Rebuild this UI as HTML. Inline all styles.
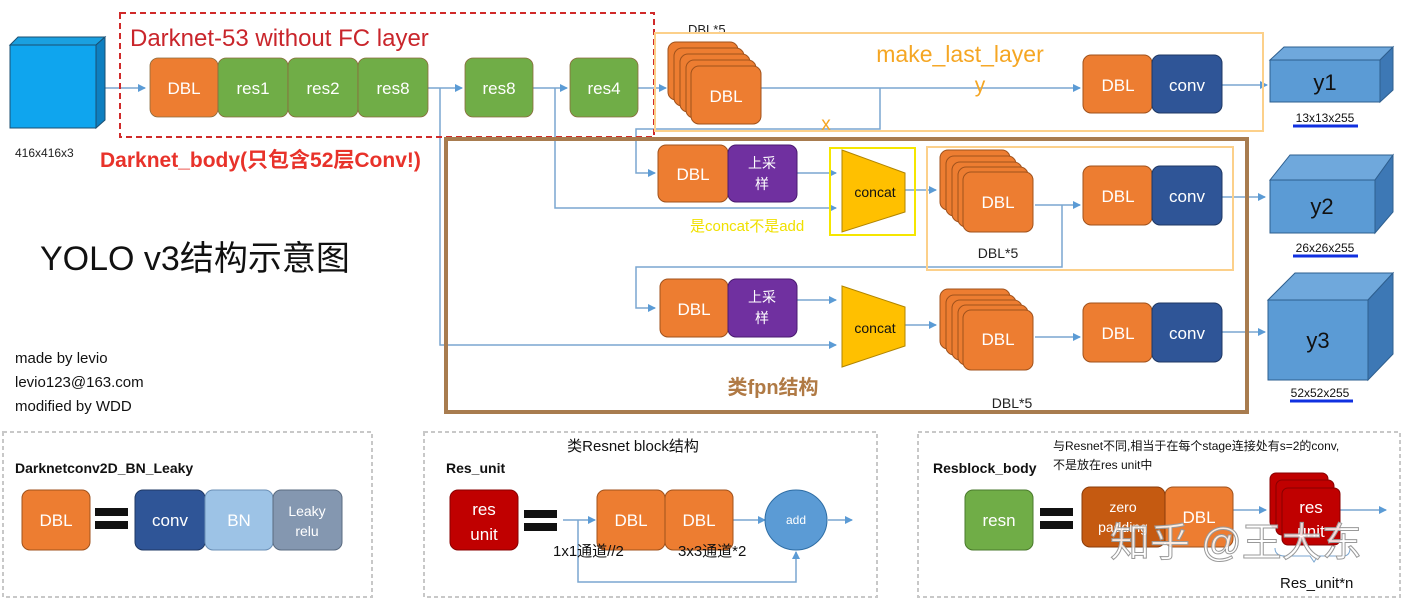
<!DOCTYPE html>
<html><head><meta charset="utf-8"><style>
html,body{margin:0;padding:0;background:#fff;}
svg{display:block;font-family:"Liberation Sans","Noto Sans CJK SC",sans-serif;}
</style></head><body>
<svg width="1410" height="599" viewBox="0 0 1410 599" xmlns="http://www.w3.org/2000/svg">
<defs>
<marker id="a" markerWidth="8" markerHeight="8" refX="7" refY="4" orient="auto" markerUnits="userSpaceOnUse"><path d="M0,0 L8,4 L0,8 Z" fill="#5b9bd5"/></marker>
</defs>
<g stroke="#7aa6d0" stroke-width="1.5" fill="none">
<line x1="80" y1="88" x2="145" y2="88" marker-end="url(#a)"/>
<line x1="428" y1="88" x2="462" y2="88" marker-end="url(#a)"/>
<line x1="533" y1="88" x2="567" y2="88" marker-end="url(#a)"/>
<line x1="638" y1="88" x2="666" y2="88" marker-end="url(#a)"/>
<line x1="760" y1="88" x2="1080" y2="88" marker-end="url(#a)"/>
<polyline points="880,88 880,129 636,129 636,173 655,173" marker-end="url(#a)"/>
<polyline points="440,88 440,345 836,345" marker-end="url(#a)"/>
<polyline points="555,88 555,208 836,208" marker-end="url(#a)"/>
<line x1="1222" y1="85" x2="1267" y2="85" marker-end="url(#a)"/>
<line x1="797" y1="173" x2="836" y2="173" marker-end="url(#a)"/>
<line x1="905" y1="190" x2="936" y2="190" marker-end="url(#a)"/>
<line x1="1035" y1="205" x2="1080" y2="205" marker-end="url(#a)"/>
<polyline points="1062,205 1062,267 636,267 636,308 655,308" marker-end="url(#a)"/>
<line x1="1222" y1="197" x2="1265" y2="197" marker-end="url(#a)"/>
<line x1="797" y1="300" x2="836" y2="300" marker-end="url(#a)"/>
<line x1="905" y1="325" x2="936" y2="325" marker-end="url(#a)"/>
<line x1="1035" y1="337" x2="1080" y2="337" marker-end="url(#a)"/>
<line x1="1222" y1="332" x2="1265" y2="332" marker-end="url(#a)"/>
<line x1="563" y1="520" x2="595" y2="520" marker-end="url(#a)"/>
<line x1="733" y1="520" x2="765" y2="520" marker-end="url(#a)"/>
<line x1="828" y1="520" x2="852" y2="520" marker-end="url(#a)"/>
<polyline points="578,520 578,582 796,582 796,552" marker-end="url(#a)"/>
<line x1="1233" y1="510" x2="1266" y2="510" marker-end="url(#a)"/>
<line x1="1340" y1="510" x2="1386" y2="510" marker-end="url(#a)"/>
</g>
<polygon points="10,45 18,37 105,37 96,45" fill="#1aa0e0" stroke="#1b4f72"/>
<polygon points="96,45 105,37 105,120 96,128" fill="#0e7fc0" stroke="#1b4f72"/>
<rect x="10" y="45" width="86" height="83" fill="#0fa5ee" stroke="#1b4f72"/>
<text x="15" y="157" font-size="12" fill="#222">416x416x3</text>
<rect x="120" y="13" width="534" height="124" fill="none" stroke="#d02a2a" stroke-width="2" stroke-dasharray="6,4"/>
<text x="130" y="46" font-size="24" fill="#c9252b">Darknet-53 without FC layer</text>
<text x="100" y="167" font-size="21" font-weight="bold" fill="#e8322a">Darknet_body(只包含52层Conv!)</text>
<g font-size="17" fill="#fff" text-anchor="middle" stroke="#8a6a3c" stroke-width="0.8">
<rect x="150" y="58" width="68" height="59" rx="8" fill="#ed7d31"/>
<rect x="218" y="58" width="70" height="59" rx="8" fill="#70ad47"/>
<rect x="288" y="58" width="70" height="59" rx="8" fill="#70ad47"/>
<rect x="358" y="58" width="70" height="59" rx="8" fill="#70ad47"/>
<rect x="465" y="58" width="68" height="59" rx="8" fill="#70ad47"/>
<rect x="570" y="58" width="68" height="59" rx="8" fill="#70ad47"/>
</g>
<g font-size="17" fill="#fff" text-anchor="middle">
<text x="184" y="94">DBL</text><text x="253" y="94">res1</text><text x="323" y="94">res2</text><text x="393" y="94">res8</text><text x="499" y="94">res8</text><text x="604" y="94">res4</text>
</g>
<text x="688" y="34" font-size="13" fill="#222">DBL*5</text>
<rect x="655" y="33" width="608" height="98" fill="none" stroke="#fcd08a" stroke-width="2"/>
<text x="960" y="62" font-size="23" fill="#f5a623" text-anchor="middle">make_last_layer</text>
<text x="980" y="92" font-size="21" fill="#f5a623" text-anchor="middle">y</text>
<text x="826" y="130" font-size="19" fill="#f5a623" text-anchor="middle">x</text>
<rect x="446" y="139" width="801" height="273" fill="none" stroke="#a87c4f" stroke-width="4"/>
<rect x="927" y="147" width="306" height="123" fill="none" stroke="#fcd08a" stroke-width="2"/>
<rect x="830" y="148" width="85" height="87" fill="none" stroke="#f5e600" stroke-width="2"/>
<g fill="#ed7d31" stroke="#a0521c" stroke-width="1">
<rect x="668" y="42" width="70" height="58" rx="8"/><rect x="674" y="48" width="70" height="58" rx="8"/><rect x="680" y="54" width="70" height="58" rx="8"/><rect x="686" y="60" width="70" height="58" rx="8"/><rect x="691" y="66" width="70" height="58" rx="8"/>
<rect x="940" y="150" width="70" height="60" rx="8"/><rect x="946" y="156" width="70" height="60" rx="8"/><rect x="952" y="162" width="70" height="60" rx="8"/><rect x="958" y="167" width="70" height="60" rx="8"/><rect x="963" y="172" width="70" height="60" rx="8"/>
<rect x="940" y="289" width="70" height="60" rx="8"/><rect x="946" y="295" width="70" height="60" rx="8"/><rect x="952" y="300" width="70" height="60" rx="8"/><rect x="958" y="305" width="70" height="60" rx="8"/><rect x="963" y="310" width="70" height="60" rx="8"/>
<rect x="658" y="145" width="70" height="57" rx="8"/><rect x="660" y="279" width="68" height="58" rx="8"/>
<rect x="1083" y="55" width="69" height="58" rx="8"/><rect x="1083" y="166" width="69" height="59" rx="8"/><rect x="1083" y="303" width="69" height="59" rx="8"/>
<rect x="22" y="490" width="68" height="60" rx="8"/>
<rect x="597" y="490" width="68" height="60" rx="8"/><rect x="665" y="490" width="68" height="60" rx="8"/>
<rect x="1165" y="487" width="68" height="60" rx="8"/>
</g>
<rect x="1082" y="487" width="83" height="60" rx="8" fill="#c55a11" stroke="#8a3c0a"/>
<g fill="#7030a0" stroke="#4a1a70"><rect x="728" y="145" width="69" height="57" rx="8"/><rect x="728" y="279" width="69" height="58" rx="8"/></g>
<g fill="#2f5597" stroke="#1f3864"><rect x="1152" y="55" width="70" height="58" rx="8"/><rect x="1152" y="166" width="70" height="59" rx="8"/><rect x="1152" y="303" width="70" height="59" rx="8"/><rect x="135" y="490" width="70" height="60" rx="8"/></g>
<rect x="205" y="490" width="68" height="60" rx="8" fill="#9dc3e6" stroke="#6a8fb5"/>
<rect x="273" y="490" width="69" height="60" rx="8" fill="#8497b0" stroke="#5a6b80"/>
<rect x="450" y="490" width="68" height="60" rx="8" fill="#c00000" stroke="#800"/>
<rect x="965" y="490" width="68" height="60" rx="8" fill="#70ad47" stroke="#4a7a2c"/>
<g fill="#c00000" stroke="#800"><rect x="1270" y="473" width="58" height="55" rx="6"/><rect x="1276" y="480" width="58" height="55" rx="6"/><rect x="1282" y="488" width="58" height="57" rx="6"/></g>
<g fill="#ffc000" stroke="#b08400"><polygon points="842,150 905,173 905,212 842,232"/><polygon points="842,286 905,307 905,346 842,367"/></g>
<ellipse cx="796" cy="520" rx="31" ry="30" fill="#5b9bd5" stroke="#2e6da4"/>
<g font-size="17" fill="#fff" text-anchor="middle">
<text x="726" y="102">DBL</text><text x="998" y="208">DBL</text><text x="998" y="345">DBL</text>
<text x="693" y="180">DBL</text><text x="694" y="315">DBL</text>
<text x="1118" y="91">DBL</text><text x="1187" y="91">conv</text>
<text x="1118" y="202">DBL</text><text x="1187" y="202">conv</text>
<text x="1118" y="339">DBL</text><text x="1187" y="339">conv</text>
<text x="56" y="526">DBL</text><text x="170" y="526">conv</text><text x="239" y="526">BN</text>
<text x="631" y="526">DBL</text><text x="699" y="526">DBL</text><text x="999" y="526">resn</text><text x="1199" y="523">DBL</text>
<text x="484" y="515">res</text><text x="484" y="540">unit</text>
<text x="1311" y="513">res</text><text x="1311" y="537">unit</text>
</g>
<g font-size="14" fill="#fff" text-anchor="middle">
<text x="762" y="168">上采</text><text x="762" y="189">样</text>
<text x="762" y="302">上采</text><text x="762" y="323">样</text>
<text x="307" y="516">Leaky</text><text x="307" y="536">relu</text>
<text x="1123" y="512">zero</text><text x="1123" y="532">padding</text>
</g>
<text x="796" y="524" font-size="12" fill="#fff" text-anchor="middle">add</text>
<g font-size="14" fill="#111" text-anchor="middle"><text x="875" y="197">concat</text><text x="875" y="333">concat</text></g>
<text x="690" y="231" font-size="15" fill="#f0e000">是concat不是add</text>
<text x="998" y="258" font-size="14" fill="#222" text-anchor="middle">DBL*5</text>
<text x="1012" y="408" font-size="14" fill="#222" text-anchor="middle">DBL*5</text>
<text x="773" y="394" font-size="20" fill="#b07a45" font-weight="bold" text-anchor="middle">类fpn结构</text>
<g stroke="#2e5f8f" stroke-width="1">
<polygon points="1270,60 1284,47 1393,47 1380,60" fill="#6fa8dc"/><polygon points="1380,60 1393,47 1393,90 1380,102" fill="#3d78b5"/><rect x="1270" y="60" width="110" height="42" fill="#5b9bd5"/>
<polygon points="1270,180 1290,155 1393,155 1375,180" fill="#6fa8dc"/><polygon points="1375,180 1393,155 1393,212 1375,233" fill="#3d78b5"/><rect x="1270" y="180" width="105" height="53" fill="#5b9bd5"/>
<polygon points="1268,300 1295,273 1393,273 1368,300" fill="#6fa8dc"/><polygon points="1368,300 1393,273 1393,354 1368,380" fill="#3d78b5"/><rect x="1268" y="300" width="100" height="80" fill="#5b9bd5"/>
</g>
<g font-size="22" fill="#111" text-anchor="middle"><text x="1325" y="90">y1</text><text x="1322" y="214">y2</text><text x="1318" y="348">y3</text></g>
<g font-size="12" fill="#111" text-anchor="middle"><text x="1325" y="122">13x13x255</text><text x="1325" y="252">26x26x255</text><text x="1320" y="397">52x52x255</text></g>
<g stroke="#1030e0" stroke-width="3"><line x1="1293" y1="126" x2="1358" y2="126"/><line x1="1293" y1="256" x2="1358" y2="256"/><line x1="1290" y1="401" x2="1353" y2="401"/></g>
<text x="40" y="270" font-size="34" fill="#111">YOLO v3结构示意图</text>
<g font-size="15" fill="#111"><text x="15" y="363">made by levio</text><text x="15" y="387">levio123@163.com</text><text x="15" y="411">modified by WDD</text></g>
<g fill="none" stroke="#c8c8c8" stroke-width="2" stroke-dasharray="4,3"><rect x="3" y="432" width="369" height="165"/><rect x="424" y="432" width="453" height="165"/><rect x="918" y="432" width="482" height="165"/></g>
<g font-size="14" font-weight="bold" fill="#111"><text x="15" y="473">Darknetconv2D_BN_Leaky</text><text x="446" y="473">Res_unit</text><text x="933" y="473">Resblock_body</text></g>
<text x="633" y="451" font-size="15" fill="#111" text-anchor="middle">类Resnet block结构</text>
<g font-size="12" fill="#111"><text x="1053" y="450">与Resnet不同,相当于在每个stage连接处有s=2的conv,</text><text x="1053" y="469">不是放在res unit中</text></g>
<g font-size="15" fill="#111"><text x="553" y="556">1x1通道//2</text><text x="678" y="556">3x3通道*2</text><text x="1280" y="588">Res_unit*n</text></g>
<g fill="#111"><rect x="95" y="508" width="33" height="8"/><rect x="95" y="521" width="33" height="8"/><rect x="524" y="510" width="33" height="8"/><rect x="524" y="523" width="33" height="8"/><rect x="1040" y="508" width="33" height="8"/><rect x="1040" y="521" width="33" height="8"/></g>
<path d="M1275,548 Q1275,556 1285,556 H1310 L1314,562 L1318,556 H1343 Q1350,556 1350,548" fill="none" stroke="#7aa6d0"/>
<text x="1110" y="556" font-size="40" fill="#fff" fill-opacity="0.85" stroke="#999" stroke-width="1">知乎 @王大东</text>
</svg>
</body></html>
